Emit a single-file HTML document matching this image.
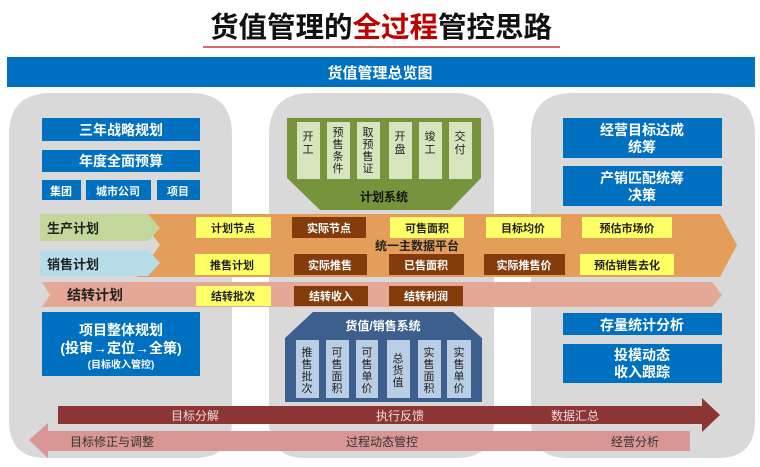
<!DOCTYPE html>
<html><head><meta charset="utf-8"><style>
html,body{margin:0;padding:0;background:#fff}
svg text{font-family:"Liberation Sans","Noto Sans CJK SC",sans-serif}
</style></head><body>
<svg width="760" height="462" viewBox="0 0 760 462" xmlns="http://www.w3.org/2000/svg">
<rect width="760" height="462" fill="#fff"/>
<text x="381" y="37" text-anchor="middle" font-size="28.5" font-weight="bold" fill="#111">货值管理的<tspan fill="#c00000">全过程</tspan>管控思路</text>
<rect x="203" y="46" width="357" height="2" fill="#d46a6a"/>
<rect x="7" y="57" width="748" height="30" fill="#0070c0"/>
<text x="380" y="78" text-anchor="middle" font-size="15" font-weight="bold" fill="#fff">货值管理总览图</text>
<path d="M9,135 Q9,93 51,93 L191,93 Q232,93 232,135 L232,420 Q232,458 195,458 L45,458 Q9,458 9,420Z" fill="#d9d9d9"/>
<path d="M269,135 Q269,93 311,93 L453,93 Q494,93 494,135 L494,420 Q494,458 457,458 L305,458 Q269,458 269,420Z" fill="#d9d9d9"/>
<path d="M531,135 Q531,93 573,93 L713,93 Q755,93 755,135 L755,420 Q755,458 718,458 L567,458 Q531,458 531,420Z" fill="#d9d9d9"/>
<g fill="#0070c0">
<rect x="42" y="118" width="158" height="23"/><rect x="42" y="150" width="158" height="22"/>
<rect x="42" y="180" width="39" height="20"/><rect x="86" y="180" width="65" height="20"/><rect x="157" y="180" width="43" height="20"/>
<rect x="42" y="312" width="158" height="64"/>
<rect x="563" y="118" width="159" height="40"/><rect x="563" y="166" width="159" height="40"/>
<rect x="563" y="313" width="159" height="22"/><rect x="563" y="344" width="159" height="39"/>
</g>
<g fill="#fff" font-weight="bold" text-anchor="middle">
<text x="121" y="135" font-size="14">三年战略规划</text>
<text x="121" y="166" font-size="14">年度全面预算</text>
<text x="61" y="195" font-size="11">集团</text><text x="118" y="195" font-size="11">城市公司</text><text x="178" y="195" font-size="11">项目</text>
<text x="121" y="335" font-size="14">项目整体规划</text>
<text x="121" y="353" font-size="14">(投审→定位→全策)</text>
<text x="121" y="368" font-size="10">(目标收入管控)</text>
<text x="642" y="135" font-size="14">经营目标达成</text><text x="642" y="152" font-size="14">统筹</text>
<text x="642" y="183" font-size="14">产销匹配统筹</text><text x="642" y="200" font-size="14">决策</text>
<text x="642" y="330" font-size="14">存量统计分析</text>
<text x="642" y="360" font-size="14">投模动态</text><text x="642" y="377" font-size="14">收入跟踪</text>
</g>
<path d="M287,118 L481,118 L481,178 L450,210 L320,210 L287,178Z" fill="#77933c"/>
<g fill="#d7e4bd">
<rect x="297" y="122" width="23" height="57"/><rect x="327" y="122" width="23" height="57"/><rect x="357" y="122" width="23" height="57"/>
<rect x="389" y="122" width="23" height="57"/><rect x="419" y="122" width="23" height="57"/><rect x="449" y="122" width="23" height="57"/>
</g>
<g font-size="11" fill="#222" text-anchor="middle">
<text x="308" y="140">开</text><text x="308" y="153">工</text>
<text x="338" y="136">预</text><text x="338" y="148">售</text><text x="338" y="160">条</text><text x="338" y="172">件</text>
<text x="368" y="136">取</text><text x="368" y="148">预</text><text x="368" y="160">售</text><text x="368" y="172">证</text>
<text x="400" y="140">开</text><text x="400" y="153">盘</text>
<text x="430" y="140">竣</text><text x="430" y="153">工</text>
<text x="460" y="140">交</text><text x="460" y="153">付</text>
</g>
<text x="384" y="201" font-size="12" font-weight="bold" text-anchor="middle" fill="#111">计划系统</text>
<path d="M137,214 L720,214 L737,245 L720,277 L137,277 L160,245Z" fill="#e59d5a"/>
<path d="M40,214 L148,214 L160,228 L148,241 L40,241Z" fill="#c4d79b"/>
<path d="M40,250 L148,250 L160,263 L148,276 L40,276Z" fill="#b7dde8"/>
<path d="M42,282 L712,282 L722,295 L712,307 L42,307 L50,295Z" fill="#e6a896"/>
<g font-weight="bold" fill="#222">
<text x="47" y="233" font-size="13">生产计划</text>
<text x="47" y="269" font-size="13">销售计划</text>
<text x="67" y="300" font-size="14">结转计划</text>
</g>
<g fill="#ffff66">
<rect x="196" y="217" width="75" height="21"/><rect x="390" y="217" width="74" height="21"/><rect x="486" y="217" width="75" height="21"/><rect x="582" y="217" width="90" height="21"/>
<rect x="195" y="254" width="75" height="21"/><rect x="580" y="254" width="94" height="21"/>
<rect x="196" y="286" width="75" height="20"/>
</g>
<g fill="#843c0c">
<rect x="292" y="217" width="74" height="21"/>
<rect x="294" y="254" width="73" height="21"/><rect x="389" y="254" width="75" height="21"/><rect x="484" y="254" width="81" height="21"/>
<rect x="294" y="286" width="74" height="20"/><rect x="389" y="286" width="74" height="20"/>
</g>
<g font-size="11" font-weight="bold" text-anchor="middle">
<text x="233" y="232" fill="#222">计划节点</text><text x="329" y="232" fill="#fff">实际节点</text>
<text x="427" y="232" fill="#222">可售面积</text><text x="523" y="232" fill="#222">目标均价</text><text x="627" y="232" fill="#222">预估市场价</text>
<text x="232" y="269" fill="#222">推售计划</text><text x="330" y="269" fill="#fff">实际推售</text>
<text x="426" y="269" fill="#fff">已售面积</text><text x="524" y="269" fill="#fff">实际推售价</text><text x="627" y="269" fill="#222">预估销售去化</text>
<text x="233" y="300" fill="#222">结转批次</text><text x="331" y="300" fill="#fff">结转收入</text><text x="426" y="300" fill="#fff">结转利润</text>
</g>
<text x="417" y="250" font-size="12" font-weight="bold" text-anchor="middle" fill="#222">统一主数据平台</text>
<path d="M313,312 L453,312 L482,338 L482,402 L285,402 L285,338Z" fill="#3c5f8e"/>
<g fill="#b9cde5">
<rect x="296" y="340" width="23" height="58"/><rect x="326" y="340" width="23" height="58"/><rect x="356" y="340" width="22" height="58"/>
<rect x="387" y="340" width="23" height="58"/><rect x="418" y="340" width="23" height="58"/><rect x="447" y="340" width="24" height="58"/>
</g>
<text x="383" y="330" font-size="12" font-weight="bold" text-anchor="middle" fill="#fff">货值/销售系统</text>
<g font-size="11" fill="#222" text-anchor="middle">
<text x="307" y="356">推</text><text x="307" y="368">售</text><text x="307" y="380">批</text><text x="307" y="392">次</text>
<text x="337" y="356">可</text><text x="337" y="368">售</text><text x="337" y="380">面</text><text x="337" y="392">积</text>
<text x="367" y="356">可</text><text x="367" y="368">售</text><text x="367" y="380">单</text><text x="367" y="392">价</text>
<text x="398" y="362">总</text><text x="398" y="374">货</text><text x="398" y="386">值</text>
<text x="429" y="356">实</text><text x="429" y="368">售</text><text x="429" y="380">面</text><text x="429" y="392">积</text>
<text x="459" y="356">实</text><text x="459" y="368">售</text><text x="459" y="380">单</text><text x="459" y="392">价</text>
</g>
<path d="M58,406 L702,406 L702,398 L720,415 L702,432 L702,424 L58,424Z" fill="#8b3535"/>
<path d="M690,431 L48,431 L48,423 L29,440 L48,458 L48,451 L690,451Z" fill="#d99694"/>
<g font-size="12" text-anchor="middle">
<text x="195" y="420" fill="#f2dcdb">目标分解</text><text x="400" y="420" fill="#f2dcdb">执行反馈</text><text x="575" y="420" fill="#f2dcdb">数据汇总</text>
<text x="112" y="446" fill="#333">目标修正与调整</text><text x="382" y="446" fill="#333">过程动态管控</text><text x="635" y="446" fill="#333">经营分析</text>
</g>
</svg>
</body></html>
